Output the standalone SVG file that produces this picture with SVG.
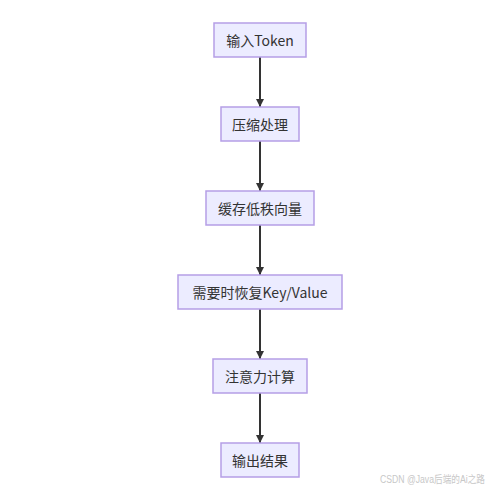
<svg xmlns="http://www.w3.org/2000/svg" width="496" height="491" viewBox="0 0 496 491">
<style>
.box{fill:#ECECFF;stroke:#B59EE6;stroke-width:1.5}
.lbl{font-family:"Noto Sans CJK SC","Liberation Sans",sans-serif;font-size:14px;fill:#333;text-anchor:middle;dominant-baseline:central}
.edge{stroke:#333;stroke-width:2;fill:none}
.wm{font-family:"Liberation Sans","Noto Sans CJK SC",sans-serif;font-size:10px;fill:#c8c8c8}
</style>
<defs>
<marker id="arr" viewBox="0 0 10 10" refX="10" refY="5" markerWidth="8" markerHeight="8" markerUnits="userSpaceOnUse" orient="auto">
<path d="M0,0L10,5L0,10z" fill="#333"/>
</marker>
</defs>
<rect width="496" height="491" fill="#fff"/>
<g id="edges">
<line class="edge" x1="260" y1="57" x2="260" y2="107" marker-end="url(#arr)"/>
<line class="edge" x1="260" y1="141" x2="260" y2="191" marker-end="url(#arr)"/>
<line class="edge" x1="260" y1="225" x2="260" y2="275" marker-end="url(#arr)"/>
<line class="edge" x1="260" y1="309" x2="260" y2="359" marker-end="url(#arr)"/>
<line class="edge" x1="260" y1="393" x2="260" y2="443" marker-end="url(#arr)"/>
</g>
<g id="n1"><rect class="box" x="214" y="23" width="92" height="34"/><text class="lbl" x="260" y="40">输入Token</text></g>
<g id="n2"><rect class="box" x="221" y="107" width="78" height="34"/><text class="lbl" x="260" y="124">压缩处理</text></g>
<g id="n3"><rect class="box" x="206" y="191" width="108" height="34"/><text class="lbl" x="260" y="208">缓存低秩向量</text></g>
<g id="n4"><rect class="box" x="178" y="275" width="164" height="34"/><text class="lbl" x="260" y="292">需要时恢复Key/Value</text></g>
<g id="n5"><rect class="box" x="213" y="359" width="94" height="34"/><text class="lbl" x="260" y="376">注意力计算</text></g>
<g id="n6"><rect class="box" x="221" y="443" width="78" height="34"/><text class="lbl" x="260" y="460">输出结果</text></g>
<text class="wm" x="380" y="483" textLength="105" lengthAdjust="spacingAndGlyphs">CSDN @Java后端的Ai之路</text>
</svg>
